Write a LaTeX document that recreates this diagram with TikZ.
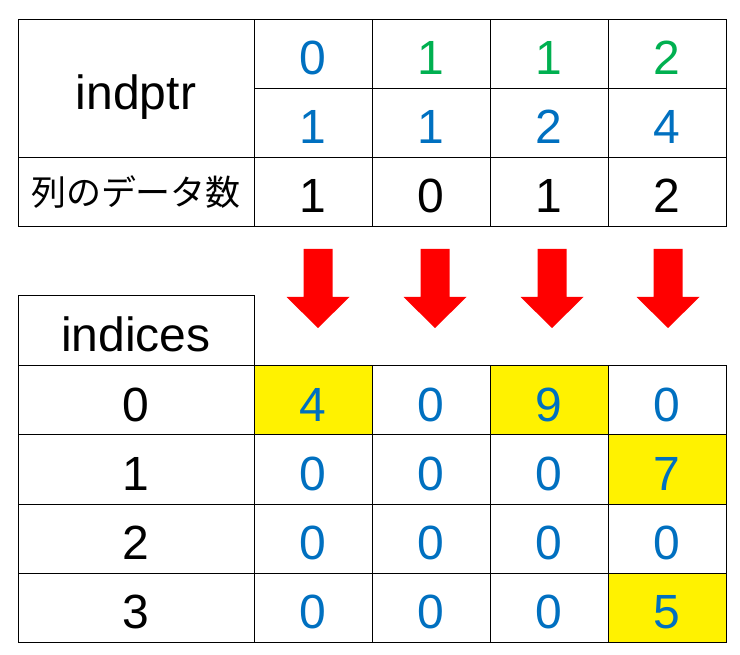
\documentclass[tikz,border=0pt]{standalone}
\usepackage{fontspec}
\setmainfont{Liberation Sans}
\newfontfamily\jpfont{Noto Sans CJK JP}
\definecolor{numblue}{RGB}{0,112,192}
\definecolor{numgreen}{RGB}{0,176,80}
\begin{document}
\begin{tikzpicture}[x=1pt,y=-1pt,
			cell/.style={rectangle, draw=black, line width=1pt, minimum width=118pt, minimum height=69pt, inner sep=0pt, text height=41pt, text depth=0pt, font=\fontsize{48}{48}\selectfont},
			headcell/.style={cell, minimum width=236pt},
			jpcell/.style={headcell, text height=26pt, font=\jpfont\fontsize{35}{35}\selectfont},
			hit/.style={fill=yellow},
			]
			\useasboundingbox (0,0) rectangle (740,655);
			% indptr table
			\node[headcell, minimum height=138pt] at (136,89) (indptr) {indptr};
			\node[jpcell] at (136,192.5) (colcount) {列のデータ数};
			\foreach \v/\c [count=\i] in {0/numblue,1/numgreen,1/numgreen,2/numgreen}
				\node[cell, text=\c] at (313+118*\i-118,54.5) (start\i) {\v};
			\foreach \v [count=\i] in {1,1,2,4}
				\node[cell, text=numblue] at (313+118*\i-118,123.5) (end\i) {\v};
			\foreach \v [count=\i] in {1,0,1,2}
				\node[cell] at (313+118*\i-118,192.5) (count\i) {\v};
			% arrows
			\foreach \x in {318,435,552,668}
				\fill[red] (\x-14.5,249) -- (\x+14.5,249) -- (\x+14.5,297) -- (\x+31.5,297)
					-- (\x,328) -- (\x-31.5,297) -- (\x-14.5,297) -- cycle;
			% indices table
			\node[headcell, minimum height=70pt] at (136,331) (indices) {indices};
			\foreach \r in {0,...,3}
				\node[headcell] at (136,400.5+69*\r) (row\r) {\r};
			\foreach \v/\h [count=\i] in {4/hit,0/,9/hit,0/}
				\node[cell, text=numblue, \h] at (313+118*\i-118,400.5) (val0-\i) {\v};
			\foreach \v/\h [count=\i] in {0/,0/,0/,7/hit}
				\node[cell, text=numblue, \h] at (313+118*\i-118,469.5) (val1-\i) {\v};
			\foreach \v [count=\i] in {0,0,0,0}
				\node[cell, text=numblue] at (313+118*\i-118,538.5) (val2-\i) {\v};
			\foreach \v/\h [count=\i] in {0/,0/,0/,5/hit}
				\node[cell, text=numblue, \h] at (313+118*\i-118,607.5) (val3-\i) {\v};
		\end{tikzpicture}
\end{document}
